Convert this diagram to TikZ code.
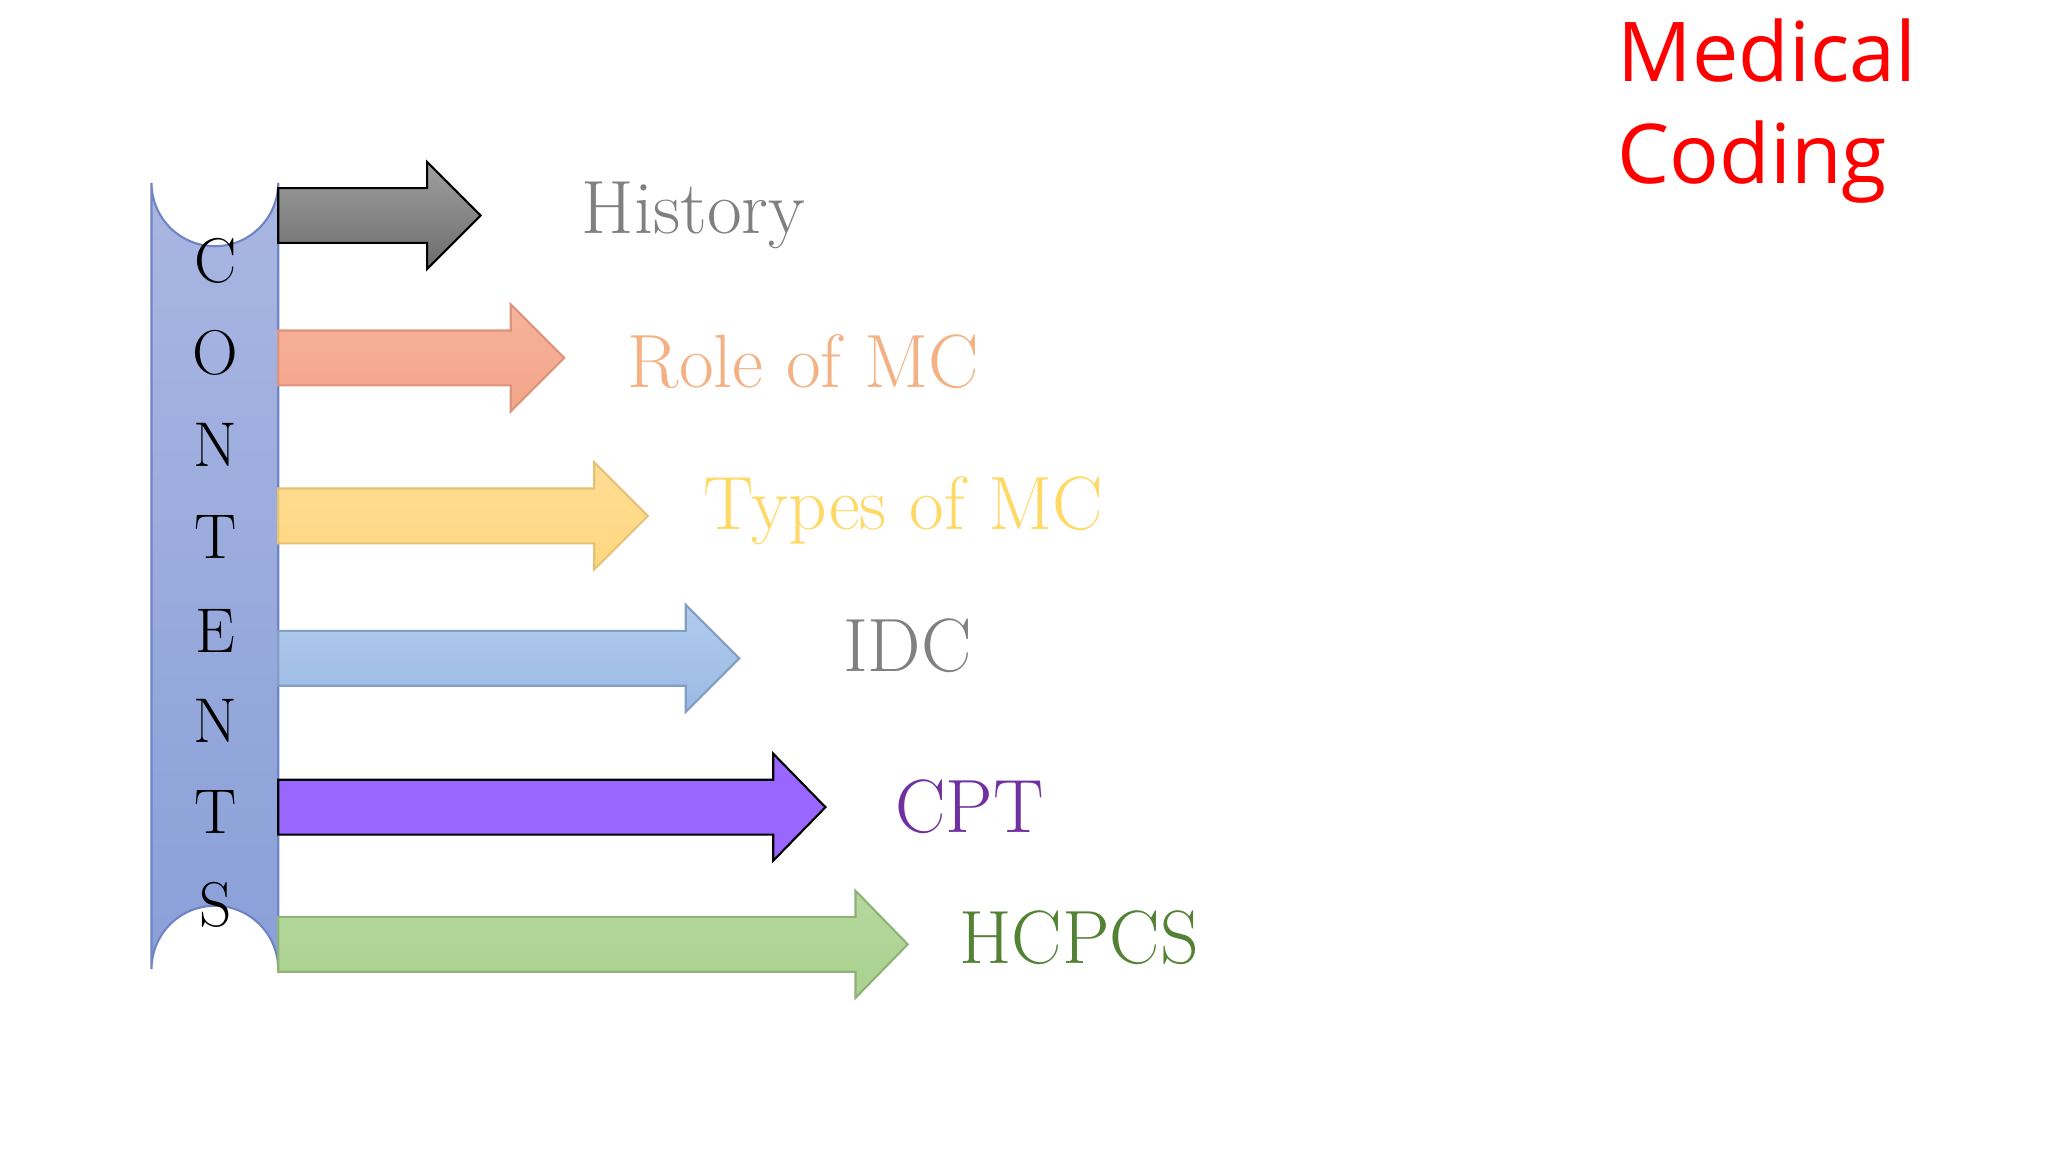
\documentclass[tikz,border=0pt]{standalone}
\usepackage{fontspec}
\newfontfamily\sansf{Open Sans}
\definecolor{pillA}{HTML}{A9B6E2}
\definecolor{pillB}{HTML}{8AA0D8}
\definecolor{pillE}{HTML}{6F84C6}
\definecolor{roleA}{HTML}{F4A58A}
\definecolor{roleT}{HTML}{F4B183}
\definecolor{typA}{HTML}{FFD780}
\definecolor{typT}{HTML}{FFD966}
\definecolor{idcA}{HTML}{A3C2EA}
\definecolor{idcB}{HTML}{9BB9E4}
\definecolor{cptA}{HTML}{9966FF}
\definecolor{cptT}{HTML}{7030A0}
\definecolor{hcA}{HTML}{A9D18E}
\definecolor{hcT}{HTML}{548235}
\begin{document}
\begin{tikzpicture}[x=0.01306cm,y=-0.01306cm,
  arr/.style={line width=0.6pt},
  lbl/.style={anchor=west,inner sep=0pt,font=\fontsize{21.5}{26}\selectfont},
  let/.style={inner sep=0pt,font=\fontsize{18}{22}\selectfont}]
\useasboundingbox (0,0) rectangle (1568,882);
\fill[white] (0,0) rectangle (1568,882);
\draw[draw=pillE,line width=0.6pt,top color=pillA,bottom color=pillB]
  (116,140) arc[start angle=180,end angle=0,radius=48.5] -- (213,742)
  arc[start angle=0,end angle=-180,radius=48.5] -- cycle;
\coordinate (pill) at (164.5,441);
\foreach \y/\l [count=\i] in {200/C,270/O,341/N,411/T,483/E,552/N,622/T,693/S}
  \node[let] (c\i) at (165,\y) {\l};
\newcommand{\myarrow}[5]{%
  \draw[arr,draw=#4,#5] (213,#1-21) -- (#2,#1-21) -- (#2,#1-41) -- (#3,#1) -- (#2,#1+41) -- (#2,#1+21) -- (213,#1+21) -- cycle;}
\myarrow{165}{327}{368}{black}{top color=gray!75,bottom color=gray!85!black}
\myarrow{274}{391}{432}{roleA!90!black}{top color=roleA!85,bottom color=roleA}
\myarrow{395}{455}{496}{typA!90!black}{top color=typA!85,bottom color=typA}
\myarrow{504}{525}{566}{idcB!85!black}{top color=idcA!85,bottom color=idcB}
\myarrow{618}{592}{632}{black}{fill=cptA}
\myarrow{723}{655}{695}{hcA!85!black}{top color=hcA!85,bottom color=hcA}
\node[lbl,text=gray] (t1) at (445,165) {History};
\node[lbl,text=roleT] (t2) at (480,277) {Role of MC};
\node[lbl,text=typT] (t3) at (538,391) {Types of MC};
\node[lbl,text=gray] (t4) at (645,494) {IDC};
\node[lbl,text=cptT] (t5) at (685,618) {CPT};
\node[lbl,text=hcT] (t6) at (734,718) {HCPCS};
\node[anchor=north west,inner sep=0pt,align=left,text=red,font=\sansf\fontsize{23.5}{29}\selectfont] (mc) at (1238,14) {Medical\\Coding};
\end{tikzpicture}
\end{document}
